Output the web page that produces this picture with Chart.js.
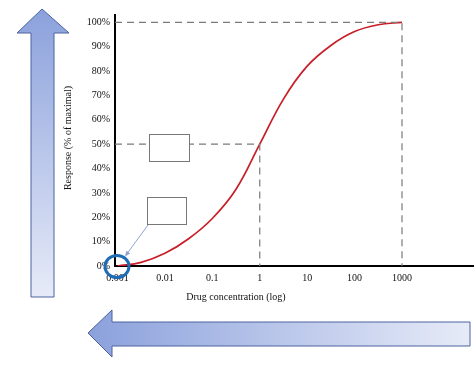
<!DOCTYPE html>
<html>
<head>
<meta charset="utf-8">
<script src="https://cdn.jsdelivr.net/npm/chart.js@4"></script>
<style>
  html, body { margin: 0; padding: 0; background: #fff; }
  #wrap { width: 474px; height: 370px; position: relative; }
</style>
</head>
<body>
<div id="wrap"><canvas id="c" width="474" height="370"></canvas></div>
<script>
// ---- data ----
const concentrations = [0.001, 0.00316, 0.01, 0.0316, 0.1, 0.316, 1, 3.16, 10, 31.6, 100, 316, 1000];
const responses      = [0,     1.5,     5.2,  11.2,   19.5, 31.5, 50, 68.5, 82, 90.5, 96.2, 99, 100];
const xTickValues = [0.001, 0.01, 0.1, 1, 10, 100, 1000];
const xTickLabels = ['0.001', '0.01', '0.1', '1', '10', '100', '1000'];
const yTickValues = [0, 10, 20, 30, 40, 50, 60, 70, 80, 90, 100];
const yTickLabels = ['0%', '10%', '20%', '30%', '40%', '50%', '60%', '70%', '80%', '90%', '100%'];
const ec50 = 1;
const emaxConc = 1000;
const xAxisTitle = 'Drug concentration (log)';
const yAxisTitle = 'Response (% of maximal)';

const X_MIN = 0.000886, X_MAX = 33000, Y_MAX = 103;
const FONT = "'Liberation Serif', 'Times New Roman', serif";

const curve = concentrations.map((c, i) => ({ x: c, y: responses[i] }));
const guideMax = [{ x: X_MIN, y: 100 }, { x: emaxConc, y: 100 }, { x: emaxConc, y: 0 }];
const guideHalf = [{ x: X_MIN, y: 50 }, { x: ec50, y: 50 }, { x: ec50, y: 0 }];

const decor = {
  id: 'decor',
  beforeDraw(chart) {
    const ctx = chart.ctx;
    ctx.save();
    ctx.fillStyle = '#fff';
    ctx.fillRect(0, 0, chart.width, chart.height);
    // up arrow
    let g = ctx.createLinearGradient(0, 9, 0, 297);
    g.addColorStop(0, '#8ba1dc');
    g.addColorStop(1, '#e7ebf8');
    ctx.beginPath();
    ctx.moveTo(42, 9); ctx.lineTo(69, 33); ctx.lineTo(54, 33); ctx.lineTo(54, 297);
    ctx.lineTo(31, 297); ctx.lineTo(31, 33); ctx.lineTo(17, 33); ctx.closePath();
    ctx.fillStyle = g; ctx.fill();
    ctx.strokeStyle = '#4d63a0'; ctx.lineWidth = 1; ctx.stroke();
    // left arrow
    g = ctx.createLinearGradient(88, 0, 470, 0);
    g.addColorStop(0, '#8ba1dc');
    g.addColorStop(1, '#e7ebf8');
    ctx.beginPath();
    ctx.moveTo(88, 333); ctx.lineTo(112, 310); ctx.lineTo(112, 322); ctx.lineTo(470, 322);
    ctx.lineTo(470, 346); ctx.lineTo(112, 346); ctx.lineTo(112, 357); ctx.closePath();
    ctx.fillStyle = g; ctx.fill();
    ctx.stroke();
    // titles
    ctx.fillStyle = '#111';
    ctx.font = '10px ' + FONT;
    ctx.textAlign = 'center';
    ctx.textBaseline = 'middle';
    ctx.fillText(xAxisTitle, 236, 297);
    ctx.translate(68, 138);
    ctx.rotate(-Math.PI / 2);
    ctx.fillText(yAxisTitle, 0, 0);
    ctx.restore();
  },
  afterDraw(chart) {
    const ctx = chart.ctx;
    ctx.save();
    // boxes
    ctx.fillStyle = '#fff';
    ctx.strokeStyle = '#777';
    ctx.lineWidth = 1;
    ctx.fillRect(149.5, 134.5, 40, 27); ctx.strokeRect(149.5, 134.5, 40, 27);
    ctx.fillRect(147.5, 197.5, 39, 27); ctx.strokeRect(147.5, 197.5, 39, 27);
    // pointer
    ctx.strokeStyle = '#8ea3d4';
    ctx.beginPath(); ctx.moveTo(148, 225); ctx.lineTo(126, 255); ctx.stroke();
    ctx.fillStyle = '#8ea3d4';
    ctx.beginPath();
    const ang = Math.atan2(255 - 225, 126 - 148);
    ctx.moveTo(125, 256.5);
    ctx.lineTo(125 - 6 * Math.cos(ang - 0.4), 256.5 - 6 * Math.sin(ang - 0.4));
    ctx.lineTo(125 - 6 * Math.cos(ang + 0.4), 256.5 - 6 * Math.sin(ang + 0.4));
    ctx.closePath(); ctx.fill();
    // circle
    ctx.strokeStyle = '#1e6cb5';
    ctx.lineWidth = 3;
    ctx.beginPath();
    ctx.ellipse(117, 266.5, 12, 11, 0, 0, Math.PI * 2);
    ctx.stroke();
    ctx.restore();
  }
};

new Chart(document.getElementById('c'), {
  type: 'line',
  data: {
    datasets: [
      { data: guideMax, borderColor: '#7a7a7a', borderWidth: 1.2, borderDash: [7, 5], pointRadius: 0, tension: 0, fill: false },
      { data: guideHalf, borderColor: '#7a7a7a', borderWidth: 1.2, borderDash: [7, 5], pointRadius: 0, tension: 0, fill: false },
      { data: curve, borderColor: '#c81e28', borderWidth: 1.7, pointRadius: 0, tension: 0.4, fill: false }
    ]
  },
  options: {
    responsive: false,
    animation: false,
    events: [],
    layout: { padding: { top: 15, left: 0, right: 0, bottom: 0 } },
    plugins: { legend: { display: false }, tooltip: { enabled: false } },
    scales: {
      x: {
        type: 'logarithmic',
        min: X_MIN, max: X_MAX,
        afterFit(s) { s.height = 104; },
        afterBuildTicks(s) { s.ticks = xTickValues.map(v => ({ value: v })); },
        grid: { display: false, drawTicks: false },
        border: { display: true, color: '#000', width: 2 },
        ticks: {
          autoSkip: false, maxRotation: 0, padding: 6, color: '#111',
          font: { family: FONT, size: 10 },
          callback: (v, i) => xTickLabels[i]
        }
      },
      y: {
        type: 'linear',
        min: 0, max: Y_MAX,
        afterFit(s) { s.width = 115; },
        afterBuildTicks(s) { s.ticks = yTickValues.map(v => ({ value: v })); },
        grid: { display: false, drawTicks: false },
        border: { display: true, color: '#000', width: 2 },
        ticks: {
          autoSkip: false, padding: 5, color: '#111',
          font: { family: FONT, size: 10 },
          callback: (v, i) => yTickLabels[i]
        }
      }
    }
  },
  plugins: [decor]
});
</script>
</body>
</html>
